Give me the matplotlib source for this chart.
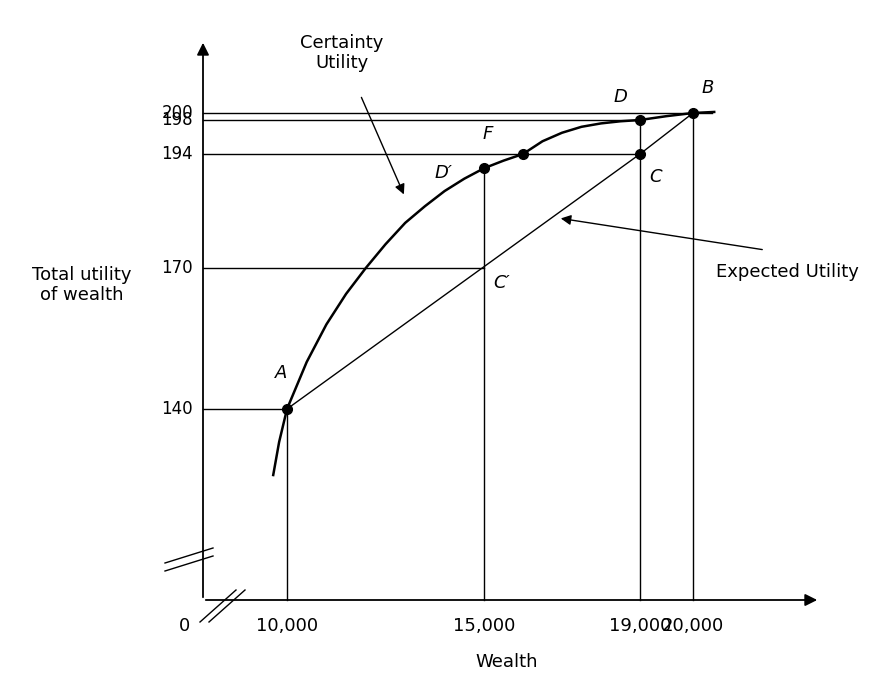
import numpy as np
import matplotlib.pyplot as plt

# values
wealth_ticks = [10000, 15000, 19000, 20000]
wealth_labels = ["10,000", "15,000", "19,000", "20,000"]
util_ticks = [140, 170, 194, 198, 200]

curve_w = [9650, 9800, 10000, 10500, 11000, 11500, 12000, 12500, 13000, 13500, 14000,
           14500, 15000, 15500, 16000, 16500, 17000, 17500, 18000, 18500, 19000, 19500, 20000, 20400]
curve_u = [126, 133, 140, 150, 158, 164.5, 170, 175, 179.5, 183, 186.2,
           188.8, 191, 192.6, 194, 195.5, 196.5, 197.2, 197.6, 197.85, 198, 199.1, 200, 200.3]

pts = {"A": (10000, 140), "D'": (15000, 191), "F": (16000, 194),
       "D": (19000, 198), "C": (19000, 194), "B": (20000, 200)}
c_prime = (15000, 170)

# the drawing's axes are not evenly spaced: piecewise-linear scales
xk_w = np.array([2000, 10000, 15000, 19000, 20000, 26000])
xk_p = np.array([-28, 287, 484, 640, 693, 1011], dtype=float)
yk_u = np.array([80, 140, 170, 194, 198, 200, 240])
yk_p = -np.array([692, 409, 268, 154, 120, 113, -27], dtype=float)

def xf(v): return np.interp(v, xk_w, xk_p)
def xi(v): return np.interp(v, xk_p, xk_w)
def yf(v): return np.interp(v, yk_u, yk_p)
def yi(v): return np.interp(v, yk_p, yk_u)

fig = plt.figure(figsize=(8.85, 6.81), dpi=100)
ax = fig.add_axes([0, 0, 1, 1])
ax.set_xscale("function", functions=(xf, xi))
ax.set_yscale("function", functions=(yf, yi))
ax.set_xlim(float(xi(0)), float(xi(885)))
ax.set_ylim(float(yi(-681)), float(yi(0)))
ax.axis("off")

def px(x, y):
    return (float(xi(x)), float(yi(-y)))

x0, y0 = px(203, 600)
xe, _ = px(820, 600)
_, ye = px(203, 40)
lw = 1.0
ax.annotate("", xy=(xe, y0), xytext=(x0, y0),
            arrowprops=dict(arrowstyle="-|>", color="black", lw=1.3, mutation_scale=18))
ax.annotate("", xy=(x0, ye), xytext=(x0, y0),
            arrowprops=dict(arrowstyle="-|>", color="black", lw=1.3, mutation_scale=18))

# break marks
for dy in (0, 8):
    a = px(165, 563 + dy); b = px(213, 548 + dy)
    ax.plot([a[0], b[0]], [a[1], b[1]], color="black", lw=lw)
for dx in (0, 9):
    a = px(200 + dx, 622); b = px(236 + dx, 590)
    ax.plot([a[0], b[0]], [a[1], b[1]], color="black", lw=lw)

# guide lines
for name in ["A", "C", "D", "B"]:
    w, u = pts[name]
    ax.plot([x0, w], [u, u], color="black", lw=lw)
ax.plot([x0, c_prime[0]], [c_prime[1], c_prime[1]], color="black", lw=lw)
for name in ["A", "D'", "D", "B"]:
    w, u = pts[name]
    ax.plot([w, w], [y0, u], color="black", lw=lw)
ax.plot([pts["B"][0], 20350], [200, 200], color="black", lw=lw)

# chord (straight in pixel space) and curve
ax.plot([pts["A"][0], pts["C"][0], pts["B"][0]], [pts["A"][1], pts["C"][1], pts["B"][1]],
        color="black", lw=lw)
ax.plot(curve_w, curve_u, color="black", lw=1.8)

for name, (w, u) in pts.items():
    ax.plot(w, u, "o", color="black", ms=7)

fs = 13
for name, (x, y) in {"A": (281, 373), "D\u2032": (444, 173), "F": (488, 134), "D": (620, 97),
                     "C": (656, 177), "B": (708, 88), "C\u2032": (502, 283)}.items():
    ax.text(*px(x, y), name, fontsize=fs, style="italic", ha="center", va="center")

for u in util_ticks:
    ax.text(px(193, 0)[0], u, str(u), fontsize=fs - 1, ha="right", va="center")
for w, l in zip(wealth_ticks, wealth_labels):
    ax.text(w, px(0, 626)[1], l, fontsize=fs, ha="center", va="center")
ax.text(*px(184, 626), "0", fontsize=fs, ha="center", va="center")
ax.text(*px(507, 662), "Wealth", fontsize=fs, ha="center", va="center")
ax.text(*px(82, 285), "Total utility\nof wealth", fontsize=fs, ha="center", va="center",
        linespacing=1.1)

ax.annotate("Certainty\nUtility", xy=px(405, 197), xytext=px(342, 53), fontsize=fs,
            ha="center", va="center", linespacing=1.1,
            arrowprops=dict(arrowstyle="-|>", color="black", lw=1, mutation_scale=15,
                            shrinkA=18))
ax.text(*px(787, 272), "Expected Utility", fontsize=fs, ha="center", va="center")
ax.annotate("", xy=px(558, 218), xytext=px(765, 250),
            arrowprops=dict(arrowstyle="-|>", color="black", lw=1, mutation_scale=15))

fig.savefig("out.png", dpi=100)
